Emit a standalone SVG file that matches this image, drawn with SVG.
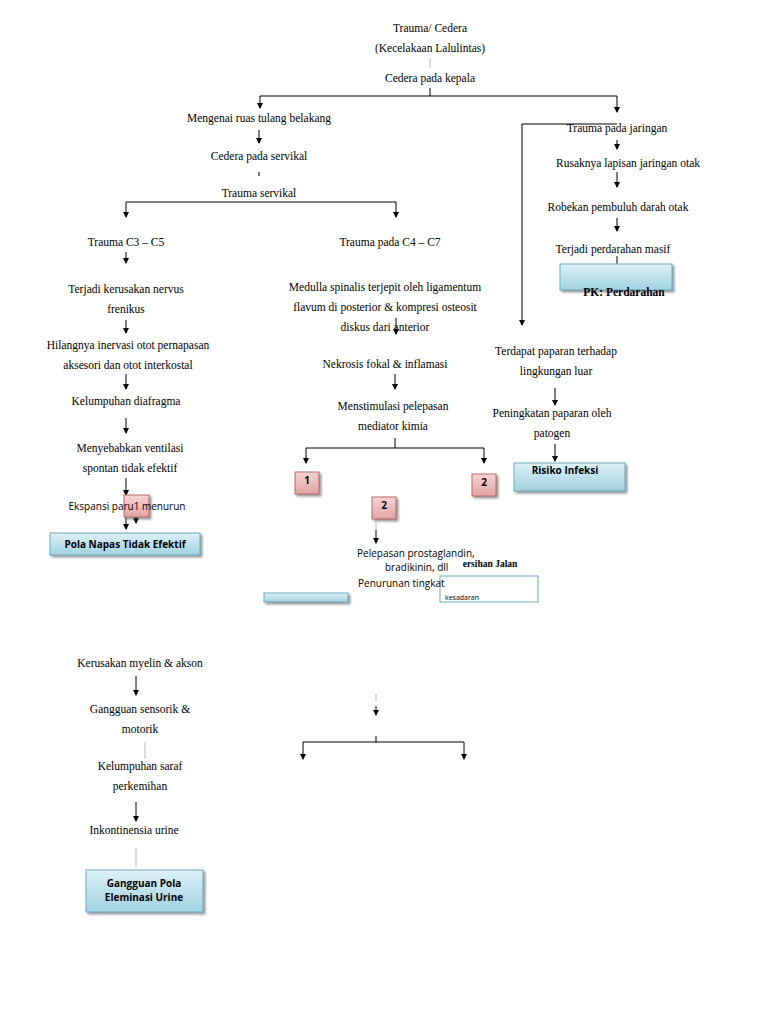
<svg xmlns="http://www.w3.org/2000/svg" width="768" height="1024" viewBox="0 0 768 1024">
<style>
.t{font-family:"Liberation Serif",serif;font-size:11.5px;fill:#000;text-anchor:middle}
.s{font-family:"Open Sans","Liberation Sans",sans-serif;font-size:10px;fill:#000}
.b{font-family:"Open Sans","Liberation Sans",sans-serif;font-size:10px;font-weight:bold;fill:#000;text-anchor:middle}
.l{stroke:#000;stroke-width:1;fill:none}
.f{stroke:#bbb;stroke-width:1;fill:none}
.a{stroke:#000;stroke-width:1;fill:none;marker-end:url(#ah)}
.bx{fill:url(#g);stroke:#6aa9bd;stroke-width:1;filter:url(#sh)}
.pk{fill:url(#p);stroke:#b56b6b;stroke-width:1;filter:url(#sh)}
</style>
<defs>
<marker id="ah" markerWidth="6" markerHeight="6" refX="5" refY="3" orient="auto" markerUnits="userSpaceOnUse"><path d="M0,0 L6,3 L0,6z" fill="#000"/></marker>
<linearGradient id="g" x1="0" y1="0" x2="0" y2="1"><stop offset="0" stop-color="#dff1f7"/><stop offset="1" stop-color="#9fd1e0"/></linearGradient>
<linearGradient id="p" x1="0" y1="0" x2="0" y2="1"><stop offset="0" stop-color="#f6d3d3"/><stop offset="1" stop-color="#e3a3a3"/></linearGradient>
<filter id="sh" x="-10%" y="-20%" width="130%" height="160%"><feDropShadow dx="2" dy="2" stdDeviation="1" flood-color="#555" flood-opacity="0.6"/></filter>
</defs>
<rect width="768" height="1024" fill="#fff"/>
<g id="connectors">
<path class="f" d="M430,58 V68"/>
<path class="l" d="M430,88 V96 M260,96 H617"/>
<path class="a" d="M260,96 V108"/>
<path class="a" d="M617,96 V112"/>
<path class="a" d="M259,130 V143"/>
<path class="l" d="M259,172 V176"/>
<path class="l" d="M126,202 H396"/>
<path class="a" d="M126,202 V217"/>
<path class="a" d="M396,202 V217"/>
<path class="a" d="M126,252 V263"/>
<path class="a" d="M126,320 V333"/>
<path class="a" d="M126,374 V389"/>
<path class="a" d="M126,418 V433"/>
<path class="a" d="M126,478 V495"/>
<path class="a" d="M126,515 V529"/>
<path class="a" d="M136,505 V523"/>
<path class="l" d="M522,124 H617"/>
<path class="a" d="M522,124 V325"/>
<path class="a" d="M617,140 V149"/>
<path class="a" d="M617,172 V187"/>
<path class="a" d="M617,218 V231"/>
<path class="a" d="M617,256 V273"/>
<path class="a" d="M555,388 V405"/>
<path class="a" d="M555,444 V461"/>
<path class="a" d="M396,318 V334"/>
<path class="a" d="M395,374 V389"/>
<path class="l" d="M395,438 V448 M306,448 H484"/>
<path class="a" d="M306,448 V463"/>
<path class="a" d="M484,448 V463"/>
<path class="f" d="M376,522 V530"/>
<path class="a" d="M376,530 V543"/>
<path class="a" d="M136,676 V695"/>
<path class="f" d="M145,742 V759"/>
<path class="a" d="M136,802 V821"/>
<path class="f" d="M136,848 V867"/>
<path class="f" d="M376,694 V702"/>
<path class="a" d="M376,706 V715"/>
<path class="l" d="M376,736 V742 M303,742 H464"/>
<path class="a" d="M303,742 V759"/>
<path class="a" d="M464,742 V759"/>
</g>
<g id="n-top"><text class="t" x="430" y="32">Trauma/ Cedera</text><text class="t" x="430" y="52">(Kecelakaan Lalulintas)</text><text class="t" x="430" y="82">Cedera pada kepala</text></g>
<g id="n-ruas"><text class="t" x="259" y="122">Mengenai ruas tulang belakang</text></g>
<g id="n-servikal"><text class="t" x="259" y="160">Cedera pada servikal</text></g>
<g id="n-tservikal"><text class="t" x="259" y="197">Trauma servikal</text></g>
<g id="n-c3"><text class="t" x="126" y="246">Trauma C3 – C5</text></g>
<g id="n-nervus"><text class="t" x="126" y="293">Terjadi kerusakan nervus</text><text class="t" x="126" y="313">frenikus</text></g>
<g id="n-inervasi"><text class="t" x="128" y="349">Hilangnya inervasi otot pernapasan</text><text class="t" x="128" y="369">aksesori dan otot interkostal</text></g>
<g id="n-diafragma"><text class="t" x="126" y="405">Kelumpuhan diafragma</text></g>
<g id="n-ventilasi"><text class="t" x="130" y="452">Menyebabkan ventilasi</text><text class="t" x="130" y="472">spontan tidak efektif</text></g>
<g id="n-pk1"><rect class="pk" x="124" y="495" width="25" height="22"/></g>
<g id="n-ekspansi"><text class="s" x="127" y="510" text-anchor="middle">Ekspansi paru1 menurun</text></g>
<g id="n-polanapas"><rect class="bx" x="50" y="533" width="150" height="22"/><text class="b" x="125" y="548">Pola Napas Tidak Efektif</text></g>
<g id="n-c4"><text class="t" x="390" y="246">Trauma pada C4 – C7</text></g>
<g id="n-medulla"><text class="t" x="385" y="291">Medulla spinalis terjepit oleh ligamentum</text><text class="t" x="385" y="311">flavum di posterior &amp; kompresi osteosit</text><text class="t" x="385" y="331">diskus dari anterior</text></g>
<g id="n-nekrosis"><text class="t" x="385" y="368">Nekrosis fokal &amp; inflamasi</text></g>
<g id="n-mediator"><text class="t" x="393" y="410">Menstimulasi pelepasan</text><text class="t" x="393" y="430">mediator kimia</text></g>
<g id="n-b1"><rect class="pk" x="295" y="472" width="24" height="22"/><text class="b" x="307" y="484">1</text></g>
<g id="n-b2a"><rect class="pk" x="472" y="474" width="24" height="22"/><text class="b" x="484" y="486">2</text></g>
<g id="n-b2b"><rect class="pk" x="372" y="497" width="24" height="22"/><text class="b" x="384" y="509">2</text></g>
<g id="n-bottom-boxes"><rect class="bx" x="264" y="593" width="84" height="9"/><rect x="440" y="576" width="98" height="26" fill="#fff" stroke="#6aa9bd"/><text class="s" x="445" y="600" style="font-size:7px">kesadaran</text></g>
<g id="n-prosta"><text class="s" x="357" y="557">Pelepasan prostaglandin,</text><text class="s" x="385" y="571">bradikinin, dll</text><text class="t" x="490" y="567" style="font-weight:bold;font-size:9.5px">ersihan Jalan</text><text class="s" x="358" y="587">Penurunan tingkat</text></g>
<g id="n-jaringan"><text class="t" x="617" y="132">Trauma pada jaringan</text></g>
<g id="n-rusak"><text class="t" x="628" y="167">Rusaknya lapisan jaringan otak</text></g>
<g id="n-robekan"><text class="t" x="618" y="211">Robekan pembuluh darah otak</text></g>
<g id="n-perdarahan"><text class="t" x="613" y="253">Terjadi perdarahan masif</text></g>
<g id="n-pk"><rect class="bx" x="560" y="264" width="112" height="26"/><text class="t" x="624" y="296" style="font-weight:bold">PK: Perdarahan</text></g>
<g id="n-paparan"><text class="t" x="556" y="355">Terdapat paparan terhadap</text><text class="t" x="556" y="375">lingkungan luar</text></g>
<g id="n-patogen"><text class="t" x="552" y="417">Peningkatan paparan oleh</text><text class="t" x="552" y="437">patogen</text></g>
<g id="n-infeksi"><rect class="bx" x="514" y="463" width="111" height="28"/><text class="b" x="565" y="474">Risiko Infeksi</text></g>
<g id="n-myelin"><text class="t" x="140" y="667">Kerusakan myelin &amp; akson</text></g>
<g id="n-sensorik"><text class="t" x="140" y="713">Gangguan sensorik &amp;</text><text class="t" x="140" y="733">motorik</text></g>
<g id="n-saraf"><text class="t" x="140" y="770">Kelumpuhan saraf</text><text class="t" x="140" y="790">perkemihan</text></g>
<g id="n-inkontinensia"><text class="t" x="134" y="834">Inkontinensia urine</text></g>
<g id="n-eleminasi"><rect class="bx" x="86" y="870" width="117" height="42"/><text class="b" x="144" y="887">Gangguan Pola</text><text class="b" x="144" y="901">Eleminasi Urine</text></g>
</svg>
